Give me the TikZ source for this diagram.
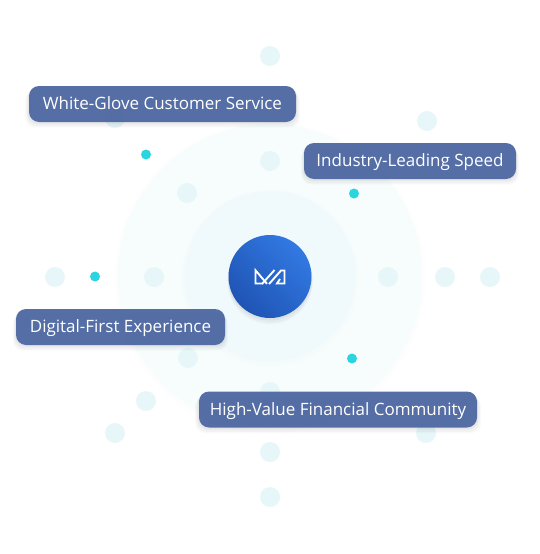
\documentclass[tikz,border=0pt]{standalone}
\usepackage{fontspec}
\setmainfont{Open Sans}
\usetikzlibrary{shadows}
\definecolor{haloout}{HTML}{F7FCFC}
\definecolor{haloin}{HTML}{F0F9FB}
\definecolor{paledot}{HTML}{E7F7F9}
\definecolor{tealdot}{HTML}{2BD5DF}
\definecolor{pillblue}{HTML}{4F6AA3}
\definecolor{hubtop}{HTML}{3279E2}
\definecolor{hubbot}{HTML}{1F54B4}
\tikzset{
  softshadow/.style={
    general shadow={shadow xshift=0pt,shadow yshift=-5pt,shadow scale=1.03,opacity=.02,fill=black},
    general shadow={shadow xshift=0pt,shadow yshift=-4pt,shadow scale=1.02,opacity=.03,fill=black},
    general shadow={shadow xshift=0pt,shadow yshift=-2pt,shadow scale=1.01,opacity=.04,fill=black}},
  pill/.style={rectangle,rounded corners=10pt,fill=pillblue,fill opacity=.96,text opacity=1,
    text=white,font=\fontsize{17}{20}\selectfont,text height=12pt,text depth=1pt,
    minimum height=36pt,inner xsep=0pt,softshadow},
  paledotstyle/.style={circle,fill=paledot,minimum size=20pt,inner sep=0pt},
  tealdotstyle/.style={circle,fill=tealdot,minimum size=10pt,inner sep=0pt},
  logoline/.style={draw=white,line width=1.9pt,line cap=butt,line join=miter}
}
\begin{document}
\begin{tikzpicture}[x=1pt,y=-1pt]
    \useasboundingbox[fill=white] (0,0) rectangle (540,554);
    % halo rings
    \foreach \r in {156,154}
      \fill[black,opacity=.003] (270,278) circle (\r);
    \fill[haloout] (270,276) circle (152);
    \foreach \r in {89,87}
      \fill[black,opacity=.003] (270,278) circle (\r);
    \fill[haloin] (270,276) circle (85);
    % pale dots
    \foreach \n/\x/\y in {a/270/56,b/115/118,c/427/121,d/270/161,e/187/193,f/55/277,g/154/277,
        h/388/277,i/445/277,j/490/277,k/188/358,l/270/392,m/146/401,n/115/433,o/426/433,p/270/452,q/270/497}
      \node[paledotstyle] (pale\n) at (\x,\y) {};
    % teal dots
    \node[tealdotstyle] (teala) at (146,154.5) {};
    \node[tealdotstyle] (tealb) at (354,193.5) {};
    \node[tealdotstyle] (tealc) at (95,276.5) {};
    \node[tealdotstyle] (teald) at (352,358.5) {};
    % labels
    \node[pill,minimum width=267pt] (service) at (162.5,104) {White-Glove Customer Service};
    \node[pill,minimum width=212pt] (speed) at (410,161) {Industry-Leading Speed};
    \node[pill,minimum width=209pt] (digital) at (120.5,327) {Digital-First Experience};
    \node[pill,minimum width=278pt] (community) at (338,409.5) {High-Value Financial Community};
    % hub and logo
    \node[circle,minimum size=83pt,inner sep=0pt,left color=hubtop,right color=hubbot,shading angle=-45,
      softshadow] (hub) at (270,276.5) {};
    \draw[logoline] (262.5,283.5) -- (255.5,283.5) -- (255.5,270.3) -- (267,283.8);
    \draw[logoline] (262,284) -- (274.5,270);
    \draw[logoline] (269,284) -- (281,270.5) -- (284.5,270.5) -- (284.5,283.5) -- (277,283.5) -- (280,279);
\end{tikzpicture}
\end{document}
